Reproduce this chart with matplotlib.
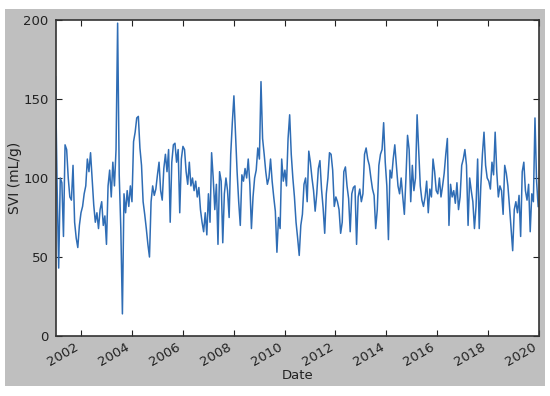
import matplotlib
matplotlib.use("Agg")
import matplotlib.pyplot as plt
import matplotlib.dates as mdates
from matplotlib.patches import Rectangle
import pandas as pd

# SVI values, ~16 readings per year, 2001 -> 2019
svi = [
    # 2001
    164, 95, 43, 100, 97, 63, 121, 118, 100, 88, 86, 108, 72, 62, 56, 70,
    # 2002
    78, 82, 90, 95, 112, 104, 116, 100, 83, 72, 78, 68, 80, 85, 70, 76,
    # 2003
    58, 95, 105, 88, 110, 95, 118, 198, 102, 68, 14, 90, 78, 92, 82, 95,
    # 2004
    85, 123, 129, 138, 139, 119, 108, 85, 77, 68, 58, 50, 85, 95, 89, 93,
    # 2005
    102, 110, 92, 86, 106, 115, 104, 118, 72, 110, 121, 122, 110, 118, 78, 112,
    # 2006
    120, 118, 104, 96, 110, 95, 100, 92, 98, 88, 94, 80, 72, 66, 78, 64,
    # 2007
    90, 72, 116, 100, 80, 96, 58, 104, 98, 59, 90, 100, 92, 75, 115, 135,
    # 2008
    152, 128, 104, 85, 70, 102, 98, 106, 100, 112, 96, 68, 88, 100, 105, 119,
    # 2009
    112, 161, 125, 115, 104, 96, 100, 112, 98, 88, 79, 53, 75, 68, 112, 98,
    # 2010
    105, 95, 125, 140, 115, 100, 88, 72, 62, 51, 70, 77, 96, 100, 85, 117,
    # 2011
    110, 100, 92, 79, 90, 106, 111, 93, 81, 65, 90, 100, 116, 115, 105, 82,
    # 2012
    88, 85, 80, 65, 72, 104, 107, 95, 87, 66, 90, 94, 95, 58, 88, 93,
    # 2013
    85, 90, 115, 119, 112, 108, 100, 93, 89, 68, 80, 108, 115, 118, 135, 110,
    # 2014
    95, 61, 105, 100, 112, 121, 108, 95, 90, 100, 88, 77, 100, 127, 118, 85,
    # 2015
    108, 92, 100, 140, 118, 95, 86, 82, 88, 98, 78, 93, 88, 112, 104, 92,
    # 2016
    90, 100, 88, 95, 103, 115, 125, 70, 96, 88, 92, 84, 97, 80, 88, 108,
    # 2017
    112, 118, 108, 70, 100, 92, 85, 68, 82, 112, 68, 95, 115, 129, 108, 100,
    # 2018
    98, 93, 110, 102, 129, 104, 88, 95, 92, 77, 108, 103, 95, 82, 68, 54,
    # 2019
    80, 85, 78, 89, 63, 104, 110, 92, 86, 96, 66, 90, 85, 138, 98, 82,
]
dates = pd.date_range("2001-01-01", "2019-12-20", periods=len(svi))

x_start, x_end = "2001-01-01", "2020-01-01"
y_min, y_max = 0, 200

fig = plt.figure(figsize=(5.5, 3.96), dpi=100, facecolor="white")
# grey panel like the old classic style background
fig.patches.append(Rectangle((5 / 550, 10 / 396), 540 / 550, 377 / 396,
                             transform=fig.transFigure, facecolor="#bfbfbf",
                             edgecolor="none", zorder=-1))

ax = fig.add_axes([55.5 / 550, 60 / 396, 483.5 / 550, 316 / 396])
ax.plot(dates, svi, color="#2f6db5", linewidth=1.1)

ax.set_xlim(pd.Timestamp(x_start), pd.Timestamp(x_end))
ax.set_ylim(y_min, y_max)
ax.set_yticks([0, 50, 100, 150, 200])
ax.xaxis.set_major_locator(mdates.YearLocator(2))
ax.xaxis.set_major_formatter(mdates.DateFormatter("%Y"))

ax.tick_params(direction="in", top=True, right=True, length=4, width=0.8,
               labelsize=9.5, colors="#222222")
ax.tick_params(axis="x", pad=3)
ax.tick_params(axis="y", pad=5)
for sp in ax.spines.values():
    sp.set_color("#333333")
    sp.set_linewidth(1.2)

for lbl in ax.get_xticklabels():
    lbl.set_rotation(30)
    lbl.set_ha("right")

ax.set_xlabel("Date", fontsize=9.5, color="#222222")
ax.set_ylabel("SVI (mL/g)", fontsize=10, color="#222222")
ax.yaxis.set_label_coords(-0.069, 0.5)
ax.xaxis.set_label_coords(0.5, -0.104)

fig.savefig("out.png", dpi=100, facecolor=fig.get_facecolor())
